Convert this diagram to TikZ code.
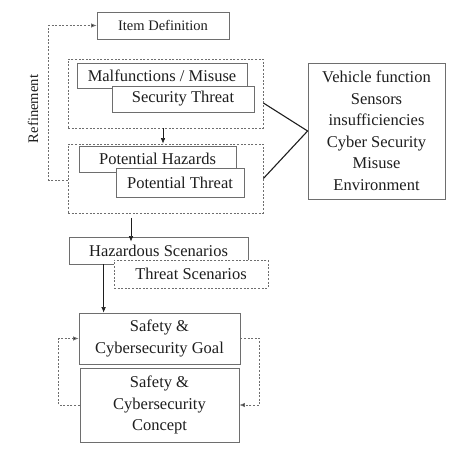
\documentclass[tikz,border=0pt]{standalone}
\usepackage{fontspec}
\setmainfont{Liberation Serif}
\newfontfamily\diagfont{Liberation Serif}
\usetikzlibrary{arrows.meta}
\definecolor{edge}{HTML}{6E6E6E}
\definecolor{ink}{HTML}{1E1E1E}
\tikzset{
  box/.style={draw=edge, line width=0.8pt, fill=white, rectangle, inner sep=0pt, text=ink,
    font=\diagfont\fontsize{16.5}{21.5}\selectfont, align=center},
  dbox/.style={draw=edge, line width=0.8pt, rectangle, inner sep=0pt,
    dash pattern=on 2pt off 1.6pt},
  arr/.style={draw=ink, line width=0.6pt, -{Latex[length=5.5pt,width=4.5pt]}},
  dloop/.style={draw=edge, line width=0.8pt, dash pattern=on 2pt off 1.6pt, arrows={-{Latex[length=5.5pt,width=4.5pt,fill=ink]}}},
  link/.style={draw=ink, line width=1.1pt}
}
\begin{document}
\begin{tikzpicture}[x=1pt,y=-1pt]
\useasboundingbox (0,0) rectangle (474,462);
% dashed groups
\node[dbox, minimum width=195pt, minimum height=69pt] (dash1) at (165.5,93.5) {};
\node[dbox, minimum width=195pt, minimum height=69pt] (dash2) at (165.5,178.5) {};
% boxes
\node[box, minimum width=132pt, minimum height=27pt, font=\diagfont\fontsize{14.5}{17}\selectfont] (item) at (163,25.5) {Item Definition};
\node[box, minimum width=170pt, minimum height=25pt] (malf) at (162,75.5) {Malfunctions / Misuse};
\node[box, minimum width=142pt, minimum height=26pt] (sec) at (183,99) {Security Threat};
\node[box, minimum width=157pt, minimum height=26pt] (haz) at (157.5,159) {Potential Hazards};
\node[box, minimum width=128pt, minimum height=29pt] (pth) at (180,182.5) {Potential Threat};
\node[box, minimum width=179pt, minimum height=27pt] (hsc) at (158.5,250.5) {Hazardous Scenarios};
\node[box, dash pattern=on 2pt off 1.6pt, minimum width=154pt, minimum height=28pt] (tsc) at (191,274) {Threat Scenarios};
\node[box, minimum width=161pt, minimum height=51pt] (goal) at (159.5,338.5) {Safety \&\\Cybersecurity Goal};
\node[box, minimum width=159pt, minimum height=74pt] (concept) at (159.5,405) {Safety \&\\Cybersecurity\\Concept};
\node[box, minimum width=137pt, minimum height=136pt] (right) at (376.5,131) {Vehicle function\\Sensors\\insufficiencies\\Cyber Security\\Misuse\\Environment};
\node[rotate=90, text=ink, font=\diagfont\fontsize{14.6}{17}\selectfont, inner sep=0pt] (refl) at (33,109) {Refinement};
% connectors
\draw[arr] ([xshift=-2.5pt]dash1.south) -- ([xshift=-2.5pt]dash2.north);
\draw[arr] ([xshift=-34.5pt,yshift=-5pt]dash2.south) -- ([xshift=-34.5pt,yshift=-5pt]dash2.south |- hsc.north);
\draw[arr] ([xshift=35pt]hsc.south west) -- ([xshift=35pt]hsc.south west |- goal.north);
\draw[dloop] ([yshift=-1.5pt]dash2.west) -- ++(-19,0) |- (item.west);
\draw[dloop] (concept.west) -- ++(-21,0) |- (goal.west);
\draw[dloop] (goal.east) -- ++(19,0) |- (concept.east);
\draw[link] ([yshift=-9.5pt]dash1.east) -- (right.west);
\draw[link] (dash2.east) -- (right.west);
\end{tikzpicture}
\end{document}
